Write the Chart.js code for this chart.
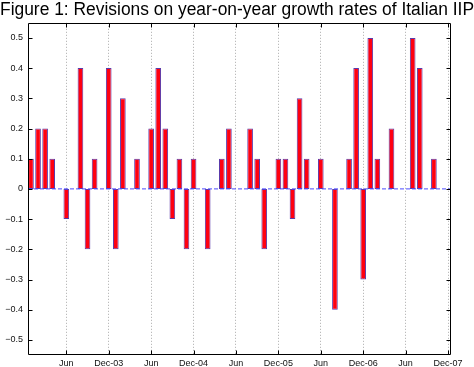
<!DOCTYPE html>
<html><head><meta charset="utf-8">
<script src="https://cdn.jsdelivr.net/npm/chart.js@4"></script>
<style>html,body{margin:0;padding:0;background:#fff;overflow:hidden}#wrap{width:474px;height:367px;position:relative}</style>
</head><body><div id="wrap"><canvas id="c"></canvas></div>
<script>
// Months Jan-03 .. Dec-07 (index 1..60)
const revisions2003 = [0.1, 0.2, 0.2, 0.1, 0, -0.1, 0, 0.4, -0.2, 0.1, 0, 0.4];
const revisions2004 = [-0.2, 0.3, 0, 0.1, 0, 0.2, 0.4, 0.2, -0.1, 0.1, -0.2, 0.1];
const revisions2005 = [0, -0.2, 0, 0.1, 0.2, 0, 0, 0.2, 0.1, -0.2, 0, 0.1];
const revisions2006 = [0.1, -0.1, 0.3, 0.1, 0, 0.1, 0, -0.4, 0, 0.1, 0.4, -0.3];
const revisions2007 = [0.5, 0.1, 0, 0.2, 0, 0, 0.5, 0.4, 0, 0.1, 0, 0];
const revisions = [].concat(revisions2003, revisions2004, revisions2005, revisions2006, revisions2007);
const xTickValues = [6, 12, 18, 24, 30, 36, 42, 48, 54, 60];
const xTickLabels = ['Jun', 'Dec-03', 'Jun', 'Dec-04', 'Jun', 'Dec-05', 'Jun', 'Dec-06', 'Jun', 'Dec-07'];
const yTickValues = [-0.5, -0.4, -0.3, -0.2, -0.1, 0, 0.1, 0.2, 0.3, 0.4, 0.5];
const xMin = 0.58, xMax = 60.42, yMin = -0.55, yMax = 0.55;

const barData = revisions.map((v, i) => ({x: i + 1, y: v === 0 ? null : v}));

const frameTicks = {
  id: 'frameTicks',
  afterDraw(chart) {
    const {ctx, chartArea: a, scales} = chart;
    ctx.save();
    ctx.strokeStyle = '#000';
    ctx.lineWidth = 1;
    ctx.beginPath();
    const L = Math.round(a.left) + 0.5, R = Math.round(a.right) - 0.5;
    const T = Math.round(a.top) + 0.5, B = Math.round(a.bottom) - 0.5;
    ctx.rect(L, T, R - L, B - T);
    const tl = 4;
    scales.x.ticks.forEach(t => {
      const px = Math.round(scales.x.getPixelForValue(t.value)) + 0.5;
      ctx.moveTo(px, B); ctx.lineTo(px, B - tl);
      ctx.moveTo(px, T); ctx.lineTo(px, T + tl);
    });
    scales.y.ticks.forEach(t => {
      const py = Math.round(scales.y.getPixelForValue(t.value)) + 0.5;
      ctx.moveTo(L, py); ctx.lineTo(L + tl, py);
      ctx.moveTo(R, py); ctx.lineTo(R - tl, py);
    });
    ctx.stroke();
    ctx.restore();
  }
};

new Chart(document.getElementById('c'), {
  type: 'bar',
  data: {
    datasets: [
      {
        type: 'line',
        data: [{x: xMin, y: 0}, {x: xMax, y: 0}],
        borderColor: '#4a4aff',
        borderWidth: 1,
        borderDash: [4, 2],
        pointRadius: 0,
        order: 0
      },
      {
        type: 'bar',
        data: barData,
        backgroundColor: '#ff0010',
        borderColor: '#5a3aaa',
        borderWidth: 1,
        borderSkipped: false,
        categoryPercentage: 1,
        barPercentage: 0.8,
        order: 1
      }
    ]
  },
  options: {
    responsive: true,
    maintainAspectRatio: false,
    animation: false,
    devicePixelRatio: 1,
    layout: {padding: 0},
    plugins: {
      legend: {display: false},
      tooltip: {enabled: false},
      title: {
        display: true,
        text: 'Figure 1: Revisions on year-on-year growth rates of Italian IIP',
        align: 'start',
        color: '#000',
        font: {family: 'Liberation Sans', size: 18, weight: 'normal', lineHeight: 1.1},
        padding: {top: 0, bottom: 3}
      }
    },
    scales: {
      x: {
        type: 'linear',
        offset: false,
        min: xMin, max: xMax,
        afterBuildTicks: s => { s.ticks = xTickValues.map(v => ({value: v})); },
        afterFit: s => { s.height = 12; },
        ticks: {
          autoSkip: false, maxRotation: 0, padding: 3,
          color: '#111',
          font: {family: 'Liberation Sans', size: 9},
          callback: v => { const i = xTickValues.indexOf(v); return i >= 0 ? xTickLabels[i] : ''; }
        },
        grid: {color: '#aaa', lineWidth: 1, drawTicks: false, offset: false},
        border: {display: false, dash: [1, 2]}
      },
      y: {
        type: 'linear',
        min: yMin, max: yMax,
        afterBuildTicks: s => { s.ticks = yTickValues.map(v => ({value: v})); },
        afterFit: s => { s.width = 28; },
        ticks: {
          padding: 5, color: '#111',
          font: {family: 'Liberation Sans', size: 9},
          callback: v => (v < 0 ? '\u2212' : '') + String(Math.abs(Math.round(v * 10) / 10))
        },
        grid: {display: false, drawTicks: false},
        border: {display: false}
      },
      y2: {
        type: 'linear', position: 'right',
        min: yMin, max: yMax,
        afterFit: s => { s.width = 23; },
        ticks: {display: false},
        grid: {display: false, drawTicks: false},
        border: {display: false}
      }
    }
  },
  plugins: [frameTicks]
});
</script>
</body></html>
